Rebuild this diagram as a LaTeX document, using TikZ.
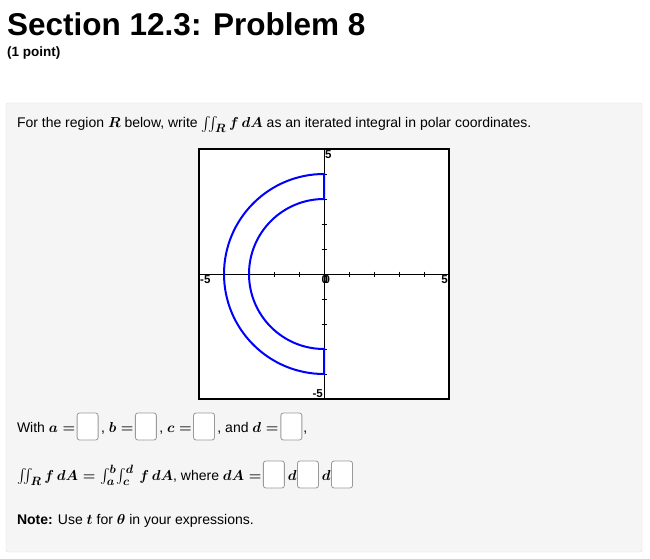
\documentclass[tikz,border=0pt]{standalone}
\usepackage{amsmath}
\usepackage{fontspec}
\setmainfont{Liberation Sans}
\usetikzlibrary{positioning}
\DeclareMathSizes{14}{15.5}{11.5}{9}

\tikzset{
  txt/.style={inner sep=0pt, outer sep=0pt, text height=11pt, text depth=0pt,
    font=\fontsize{14}{17}\selectfont\boldmath},
  ansbox/.style={draw=black!40, fill=white, rounded corners=2.5pt,
    minimum width=21pt, minimum height=27pt, inner sep=0pt, line width=0.8pt},
  ticklabel/.style={inner sep=1pt, font=\fontsize{11.5}{13}\selectfont\bfseries}
}

\begin{document}
\begin{tikzpicture}[x=1pt, y=-1pt]
        \useasboundingbox (0,0) rectangle (650,559);

        % heading
        \node (title) [anchor=base west, inner sep=0pt, font=\fontsize{31.5}{36}\selectfont\bfseries] at (7,36) {Section 12.3: Problem 8};
        \node (points) [anchor=base west, inner sep=0pt, font=\fontsize{13.5}{16}\selectfont\bfseries] at (7,57) {(1 point)};

        % panel
        \draw [draw=black!12, fill=black!4, rounded corners=2pt] (6,103) rectangle (642,552);

        \node (prompt) [txt, anchor=base west] at (17,128) {For the region $R$ below, write $\iint_R f\,dA$ as an iterated integral in polar coordinates.};

        % plot
        \coordinate (O) at (324,274);
        \begin{scope}[shift={(O)}, x=25pt, y=25pt]
        \draw [fill=white, line width=1.2pt] (-5,-5) rectangle (5,5);
        \draw (-5,0) -- (5,0);
        \draw (0,-5) -- (0,5);
        \foreach \i in {-4,...,-1,1,2,3,4} {
            \draw (\i,.1) -- (\i,-.1);
            \draw (-.1,\i) -- (.1,\i);
        }
        \draw [blue, line width=2pt] (0,4) arc [start angle=90, end angle=270, radius=4]
            -- (0,-3) arc [start angle=270, end angle=90, radius=3] -- cycle;

        \node (ytop) [ticklabel, anchor=north west] at (0,5) {5};
        \node (ybot) [ticklabel, anchor=south east] at (0,-5) {-5};
        \node (xleft) [ticklabel, anchor=north west] at (-5,0) {-5};
        \node (xright) [ticklabel, anchor=north east] at (5,0) {5};
        \node (zeroa) [ticklabel, anchor=north] at (.03,0) {0};
        \node (zerob) [ticklabel, anchor=north] at (.11,0) {0};
        \end{scope}

        % first line
        \node (with) [txt, anchor=base west] at (17,432) {With $a=$};
        \node (boxa) [ansbox, right=1.5pt of with] {};
        \node (tb) [txt, right=2.5pt of boxa] {, $b=$};
        \node (boxb) [ansbox, right=1.5pt of tb] {};
        \node (tc) [txt, right=2.5pt of boxb] {, $c=$};
        \node (boxc) [ansbox, right=1.5pt of tc] {};
        \node (td) [txt, right=2.5pt of boxc] {, and $d=$};
        \node (boxd) [ansbox, right=2pt of td] {};
        \node (tend) [txt, right=1pt of boxd] {,};

        % second line
        \node (iint) [txt, anchor=base west] at (17,480) {$\iint_R f\,dA=\int_a^b\!\int_c^d\, f\,dA$, where $dA=$};
        \node (boxr) [ansbox, right=1.5pt of iint] {};
        \node (d1) [txt, right=3pt of boxr] {$d$};
        \node (boxs) [ansbox, right=.5pt of d1] {};
        \node (d2) [txt, right=3pt of boxs] {$d$};
        \node (boxt) [ansbox, right=.5pt of d2] {};

        % note
        \node (note) [txt, anchor=base west] at (17,524) {\textbf{Note:} Use $t$ for $\theta$ in your expressions.};
\end{tikzpicture}
\end{document}
